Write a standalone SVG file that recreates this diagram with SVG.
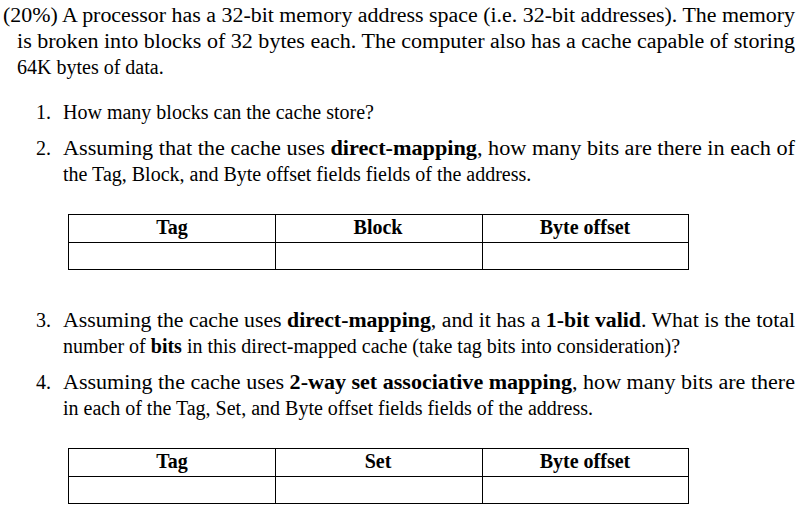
<svg xmlns="http://www.w3.org/2000/svg" width="811" height="515" viewBox="0 0 811 515">
<style>
text{font-family:"Liberation Serif","Times New Roman",serif;font-size:20px;fill:#000}
.b{font-weight:bold}
.h{font-weight:bold;text-anchor:middle}
.t{fill:none;stroke:#000;stroke-width:1}
</style>
<rect width="811" height="515" fill="#fff"/>
<text x="3" y="22" textLength="792" lengthAdjust="spacingAndGlyphs">(20%) A processor has a 32-bit memory address space (i.e. 32-bit addresses). The memory</text>
<text x="17" y="48" textLength="778" lengthAdjust="spacingAndGlyphs">is broken into blocks of 32 bytes each. The computer also has a cache capable of storing</text>
<text x="17" y="74">64K bytes of data.</text>
<text x="36" y="119">1.</text>
<text x="63" y="119">How many blocks can the cache store?</text>
<text x="36" y="155">2.</text>
<text x="63" y="155" textLength="732" lengthAdjust="spacingAndGlyphs">Assuming that the cache uses <tspan class="b">direct-mapping</tspan>, how many bits are there in each of</text>
<text x="63" y="181">the Tag, Block, and Byte offset fields fields of the address.</text>
<g id="table1">
<rect class="t" x="68.5" y="214.5" width="620" height="55"/>
<line class="t" x1="68" y1="242.5" x2="689" y2="242.5"/>
<line class="t" x1="275.5" y1="214" x2="275.5" y2="270"/>
<line class="t" x1="482.5" y1="214" x2="482.5" y2="270"/>
<text class="h" x="172" y="234">Tag</text>
<text class="h" x="378" y="234">Block</text>
<text class="h" x="585" y="234">Byte offset</text>
</g>
<text x="36" y="327">3.</text>
<text x="63" y="327" textLength="732" lengthAdjust="spacingAndGlyphs">Assuming the cache uses <tspan class="b">direct-mapping</tspan>, and it has a <tspan class="b">1-bit valid</tspan>. What is the total</text>
<text x="63" y="353">number of <tspan class="b">bits</tspan> in this direct-mapped cache (take tag bits into consideration)?</text>
<text x="36" y="389">4.</text>
<text x="63" y="389" textLength="732" lengthAdjust="spacingAndGlyphs">Assuming the cache uses <tspan class="b">2-way set associative mapping</tspan>, how many bits are there</text>
<text x="63" y="415">in each of the Tag, Set, and Byte offset fields fields of the address.</text>
<g id="table2">
<rect class="t" x="68.5" y="448.5" width="620" height="55"/>
<line class="t" x1="68" y1="476.5" x2="689" y2="476.5"/>
<line class="t" x1="275.5" y1="448" x2="275.5" y2="504"/>
<line class="t" x1="482.5" y1="448" x2="482.5" y2="504"/>
<text class="h" x="172" y="468">Tag</text>
<text class="h" x="378" y="468">Set</text>
<text class="h" x="585" y="468">Byte offset</text>
</g>
</svg>
